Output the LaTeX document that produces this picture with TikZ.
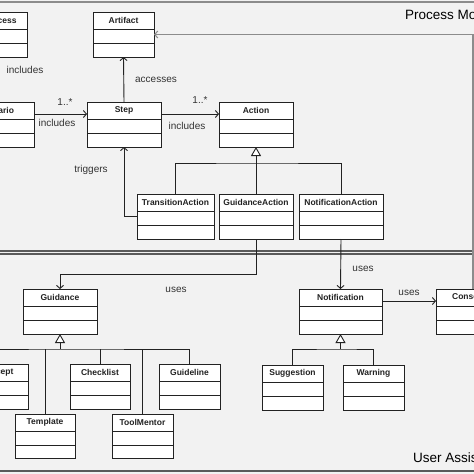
\documentclass[tikz,border=0pt]{standalone}
\usepackage{fontspec}
\setmainfont{Liberation Sans}
\usetikzlibrary{arrows.meta,calc}
\definecolor{bg}{HTML}{F2F2F2}
\definecolor{frameline}{HTML}{5A5A5A}
\definecolor{ink}{HTML}{222222}
\tikzset{
  classbox/.style={draw=ink, fill=white, line width=0.9pt, inner sep=0pt, outer sep=0pt},
  cname/.style={font=\fontsize{8.5}{10}\selectfont\bfseries, inner sep=0pt, text=ink},
  lbl/.style={font=\fontsize{10}{12}\selectfont, text=black!80, inner sep=0pt},
  title/.style={font=\fontsize{13.5}{16}\selectfont, inner sep=0pt, anchor=west},
  assoc/.style={draw=ink, line width=0.9pt, -{Straight Barb[length=3pt,width=7pt]}},
  grayassoc/.style={draw=black!45, line width=1.1pt, -{Straight Barb[length=3pt,width=7pt]}},
  gen/.style={draw=ink, line width=0.9pt, -{Triangle[open,fill=white,length=9pt,width=10pt]}},
  link/.style={draw=ink, line width=0.9pt},
  frame/.style={draw=frameline, line width=1.1pt},
}
\newcommand\umlclass[6]{%
  \node[classbox, minimum width={((#4)-(#2))*1pt}, minimum height={((#5)-(#3))*1pt}] (#1) at ({((#2)+(#4))/2},{((#3)+(#5))/2}) {};
  \draw[line width=0.9pt, draw=ink] ($(#1.north west)+(0,17)$) -- ($(#1.north east)+(0,17)$)
     ($(#1.north west)+(0,31)$) -- ($(#1.north east)+(0,31)$);
  \node[cname] at ($(#1.north)+(0,8.5)$) {#6};
}
\begin{document}
\begin{tikzpicture}[x=1pt,y=-1pt]
\useasboundingbox (0,0) rectangle (474,474);
\clip (0,0) rectangle (474,474);
\fill[bg] (0,0) rectangle (474,474);
% package frames
\draw[frame, draw=black!45] (-20,2) rectangle (500,251);
\draw[frame] (-20,251) -- (500,251);
\draw[frame] (-20,254) rectangle (500,471);
\node[title] (pmtitle) at (405,15) {Process Model};
\node[title] (uatitle) at (413,458) {User Assistance};

% classes
\umlclass{process}{-27}{12}{27}{57}{Process}
\umlclass{artifact}{93}{12}{154}{57}{Artifact}
\umlclass{scenario}{-42}{102}{34}{147}{Scenario}
\umlclass{step}{87}{102}{161}{147}{Step}
\umlclass{action}{219}{102}{293}{147}{Action}
\umlclass{transition}{137}{194}{214}{239}{TransitionAction}
\umlclass{guidanceaction}{219}{194}{293}{239}{GuidanceAction}
\umlclass{notificationaction}{299}{194}{383}{239}{NotificationAction}
\umlclass{guidance}{23}{289}{97}{334}{Guidance}
\umlclass{notification}{299}{289}{382}{334}{Notification}
\umlclass{consequence}{436}{289}{524}{334}{Consequence}
\umlclass{concept}{-35}{364}{28}{409}{Concept}
\umlclass{checklist}{70}{364}{130}{409}{Checklist}
\umlclass{guideline}{159}{364}{220}{409}{Guideline}
\umlclass{template}{15}{414}{75}{458}{Template}
\umlclass{toolmentor}{112}{414}{173}{458}{ToolMentor}
\umlclass{suggestion}{262}{365}{323}{410}{Suggestion}
\umlclass{warning}{343}{365}{404}{410}{Warning}

% process model connectors
\node[lbl] (l1) at (25,70) {includes};
\draw[assoc] ($(scenario.north east)+(0,12)$) -- ($(step.north west)+(0,12)$);
\node[lbl] (l2) at (65,102) {1..*};
\node[lbl] (l3) at (57,123) {includes};
\draw[assoc] ($(step.north east)+(0,12)$) -- ($(action.north west)+(0,12)$);
\node[lbl] (l4) at (200,100) {1..*};
\node[lbl] (l5) at (187,126) {includes};
\draw[assoc] (step.north) -- (artifact.south);
\node[lbl] (l6) at (156,80) {accesses};
\draw[assoc] (transition.west) -| (step.south);
\node[lbl] (l7) at (91,170) {triggers};
\coordinate (abar) at ($(action.south)+(0,16)$);
\draw[gen] (guidanceaction.north) -- (action.south);
\draw[link] (transition.north) |- (abar) -| (notificationaction.north);
% consequence to artifact
\coordinate (cq) at ($(consequence.north west)+(37,0)$);
\draw[grayassoc] (cq) |- (artifact.east);

% user assistance connectors
\coordinate (gturn) at ($(guidance.north)+(0,-15)$);
\draw[assoc] (guidanceaction.south) |- (gturn) -- (guidance.north);
\node[lbl] (l8) at (176,290) {uses};
\draw[assoc] (notificationaction.south) -- (notification.north);
\node[lbl] (l9) at (363,269) {uses};
\draw[assoc] ($(notification.north east)+(0,12)$) -- ($(consequence.north west)+(0,12)$);
\node[lbl] (l10) at (409,293) {uses};

% guidance generalization
\coordinate (gbar) at ($(guidance.south)+(0,15)$);
\draw[gen] (gbar) -- (guidance.south);
\draw[link] (concept.north) |- (gbar) -| (guideline.north);
\draw[link] (template.north) -- (template.north |- gbar);
\draw[link] (checklist.north) -- (checklist.north |- gbar);
\draw[link] (toolmentor.north) -- (toolmentor.north |- gbar);
% notification generalization
\coordinate (nbar) at ($(notification.south)+(0,15)$);
\draw[gen] (nbar) -- (notification.south);
\draw[link] (suggestion.north) |- (nbar) -| (warning.north);
\end{tikzpicture}
\end{document}
